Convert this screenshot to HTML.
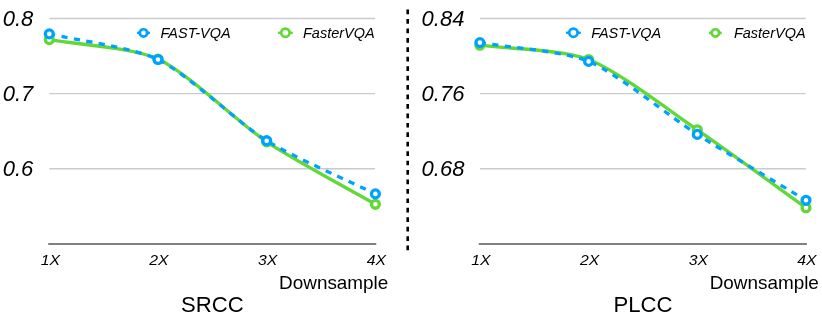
<!DOCTYPE html>
<html><head><meta charset="utf-8"><title>SRCC / PLCC vs Downsample</title>
<style>
html,body{margin:0;padding:0;background:#fff;}
svg{display:block;}
text{font-family:"Liberation Sans",sans-serif;fill:#000;}
.yl{font-size:22px;font-style:italic;}
.xl{font-size:15px;font-style:italic;}
.lg{font-size:15.5px;font-style:italic;}
.ds{font-size:17.7px;}
.tt{font-size:22.8px;}
</style></head><body>
<svg width="822" height="324" viewBox="0 0 822 324">
<rect width="822" height="324" fill="#fff"/>
<line x1="49.3" x2="375.10" y1="18.5" y2="18.5" stroke="#cbcbcb" stroke-width="1.35"/>
<text x="33.30" y="26.25" class="yl" text-anchor="end">0.8</text>
<line x1="49.3" x2="375.10" y1="93.55" y2="93.55" stroke="#cbcbcb" stroke-width="1.35"/>
<text x="33.30" y="101.30" class="yl" text-anchor="end">0.7</text>
<line x1="49.3" x2="375.10" y1="168.7" y2="168.7" stroke="#cbcbcb" stroke-width="1.35"/>
<text x="33.30" y="176.45" class="yl" text-anchor="end">0.6</text>
<line x1="48.20" x2="376.30" y1="244.0" y2="244.0" stroke="#808080" stroke-width="1.8"/>
<text x="50.30" y="265.2" class="xl" text-anchor="middle" textLength="19.3" lengthAdjust="spacingAndGlyphs">1X</text>
<text x="159.00" y="265.2" class="xl" text-anchor="middle" textLength="19.3" lengthAdjust="spacingAndGlyphs">2X</text>
<text x="267.70" y="265.2" class="xl" text-anchor="middle" textLength="19.3" lengthAdjust="spacingAndGlyphs">3X</text>
<text x="376.40" y="265.2" class="xl" text-anchor="middle" textLength="19.3" lengthAdjust="spacingAndGlyphs">4X</text>
<text x="388.30" y="288.6" class="ds" text-anchor="end" textLength="109.2" lengthAdjust="spacingAndGlyphs">Downsample</text>
<text x="212.35" y="311.5" class="tt" text-anchor="middle" textLength="62.6" lengthAdjust="spacingAndGlyphs">SRCC</text>
<path d="M49.30,39.60 C75.93,44.38 133.51,47.59 158.00,59.10 C188.28,73.34 238.87,123.21 266.70,141.80 C292.25,158.86 348.77,188.99 375.40,204.30" fill="none" stroke="#61d836" stroke-width="3.3" stroke-linecap="round"/>
<circle cx="49.30" cy="39.6" r="3.95" fill="#fff" stroke="#61d836" stroke-width="3.3"/>
<circle cx="158.00" cy="59.1" r="3.95" fill="#fff" stroke="#61d836" stroke-width="3.3"/>
<circle cx="266.70" cy="141.8" r="3.95" fill="#fff" stroke="#61d836" stroke-width="3.3"/>
<circle cx="375.40" cy="204.3" r="3.95" fill="#fff" stroke="#61d836" stroke-width="3.3"/>
<path d="M49.30,33.90 C75.93,40.17 133.44,47.44 158.00,59.50 C187.84,74.16 238.43,123.22 266.70,140.70 C291.92,156.29 348.77,180.87 375.40,193.90" fill="none" stroke="#00a2ff" stroke-width="3.3" stroke-dasharray="6.28 6.28"/>
<circle cx="49.30" cy="33.9" r="3.95" fill="#fff" stroke="#00a2ff" stroke-width="3.3"/>
<circle cx="158.00" cy="59.5" r="3.95" fill="#fff" stroke="#00a2ff" stroke-width="3.3"/>
<circle cx="266.70" cy="140.7" r="3.95" fill="#fff" stroke="#00a2ff" stroke-width="3.3"/>
<circle cx="375.40" cy="193.9" r="3.95" fill="#fff" stroke="#00a2ff" stroke-width="3.3"/>
<line x1="138.25" x2="148.75" y1="32.9" y2="32.9" stroke="#00a2ff" stroke-width="2.6" stroke-linecap="round"/>
<circle cx="143.5" cy="32.9" r="3.65" fill="#fff" stroke="#00a2ff" stroke-width="2.7"/>
<text x="160.6" y="37.9" class="lg" textLength="70.0" lengthAdjust="spacingAndGlyphs">FAST-VQA</text>
<line x1="279.10" x2="291.70" y1="32.7" y2="32.7" stroke="#61d836" stroke-width="2.6" stroke-linecap="round"/>
<circle cx="285.4" cy="32.7" r="4.15" fill="#fff" stroke="#61d836" stroke-width="2.7"/>
<text x="303.0" y="37.9" class="lg" textLength="71.7" lengthAdjust="spacingAndGlyphs">FasterVQA</text>
<line x1="479.9" x2="805.70" y1="18.5" y2="18.5" stroke="#cbcbcb" stroke-width="1.35"/>
<text x="464.40" y="26.25" class="yl" text-anchor="end">0.84</text>
<line x1="479.9" x2="805.70" y1="93.55" y2="93.55" stroke="#cbcbcb" stroke-width="1.35"/>
<text x="464.40" y="101.30" class="yl" text-anchor="end">0.76</text>
<line x1="479.9" x2="805.70" y1="168.7" y2="168.7" stroke="#cbcbcb" stroke-width="1.35"/>
<text x="464.40" y="176.45" class="yl" text-anchor="end">0.68</text>
<line x1="478.80" x2="806.90" y1="244.0" y2="244.0" stroke="#808080" stroke-width="1.8"/>
<text x="480.90" y="265.2" class="xl" text-anchor="middle" textLength="19.3" lengthAdjust="spacingAndGlyphs">1X</text>
<text x="589.60" y="265.2" class="xl" text-anchor="middle" textLength="19.3" lengthAdjust="spacingAndGlyphs">2X</text>
<text x="698.30" y="265.2" class="xl" text-anchor="middle" textLength="19.3" lengthAdjust="spacingAndGlyphs">3X</text>
<text x="807.00" y="265.2" class="xl" text-anchor="middle" textLength="19.3" lengthAdjust="spacingAndGlyphs">4X</text>
<text x="818.90" y="288.6" class="ds" text-anchor="end" textLength="109.2" lengthAdjust="spacingAndGlyphs">Downsample</text>
<text x="642.95" y="311.5" class="tt" text-anchor="middle" textLength="59.0" lengthAdjust="spacingAndGlyphs">PLCC</text>
<path d="M479.90,45.20 C506.53,48.70 563.57,49.76 588.60,59.50 C618.16,71.00 671.10,111.93 697.30,129.80 C724.38,148.26 779.37,188.65 806.00,207.75" fill="none" stroke="#61d836" stroke-width="3.3" stroke-linecap="round"/>
<circle cx="479.90" cy="45.2" r="3.95" fill="#fff" stroke="#61d836" stroke-width="3.3"/>
<circle cx="588.60" cy="59.5" r="3.95" fill="#fff" stroke="#61d836" stroke-width="3.3"/>
<circle cx="697.30" cy="129.8" r="3.95" fill="#fff" stroke="#61d836" stroke-width="3.3"/>
<circle cx="806.00" cy="207.75" r="3.95" fill="#fff" stroke="#61d836" stroke-width="3.3"/>
<path d="M479.90,42.60 C506.53,47.21 563.70,50.89 588.60,61.40 C618.15,73.88 670.27,117.13 697.30,134.40 C723.54,151.17 779.37,184.15 806.00,200.30" fill="none" stroke="#00a2ff" stroke-width="3.3" stroke-dasharray="6.28 6.28"/>
<circle cx="479.90" cy="42.6" r="3.95" fill="#fff" stroke="#00a2ff" stroke-width="3.3"/>
<circle cx="588.60" cy="61.4" r="3.95" fill="#fff" stroke="#00a2ff" stroke-width="3.3"/>
<circle cx="697.30" cy="134.4" r="3.95" fill="#fff" stroke="#00a2ff" stroke-width="3.3"/>
<circle cx="806.00" cy="200.3" r="3.95" fill="#fff" stroke="#00a2ff" stroke-width="3.3"/>
<line x1="567.10" x2="579.70" y1="32.7" y2="32.7" stroke="#00a2ff" stroke-width="2.6" stroke-linecap="round"/>
<circle cx="573.4" cy="32.7" r="4.15" fill="#fff" stroke="#00a2ff" stroke-width="2.7"/>
<text x="591.2" y="37.9" class="lg" textLength="70.0" lengthAdjust="spacingAndGlyphs">FAST-VQA</text>
<line x1="710.15" x2="720.65" y1="32.9" y2="32.9" stroke="#61d836" stroke-width="2.6" stroke-linecap="round"/>
<circle cx="715.4" cy="32.9" r="3.65" fill="#fff" stroke="#61d836" stroke-width="2.7"/>
<text x="733.9" y="37.9" class="lg" textLength="71.7" lengthAdjust="spacingAndGlyphs">FasterVQA</text>
<line x1="407.7" x2="407.7" y1="9.6" y2="250.4" stroke="#000" stroke-width="2.6" stroke-dasharray="4.72 4.72"/>
</svg>
</body></html>
